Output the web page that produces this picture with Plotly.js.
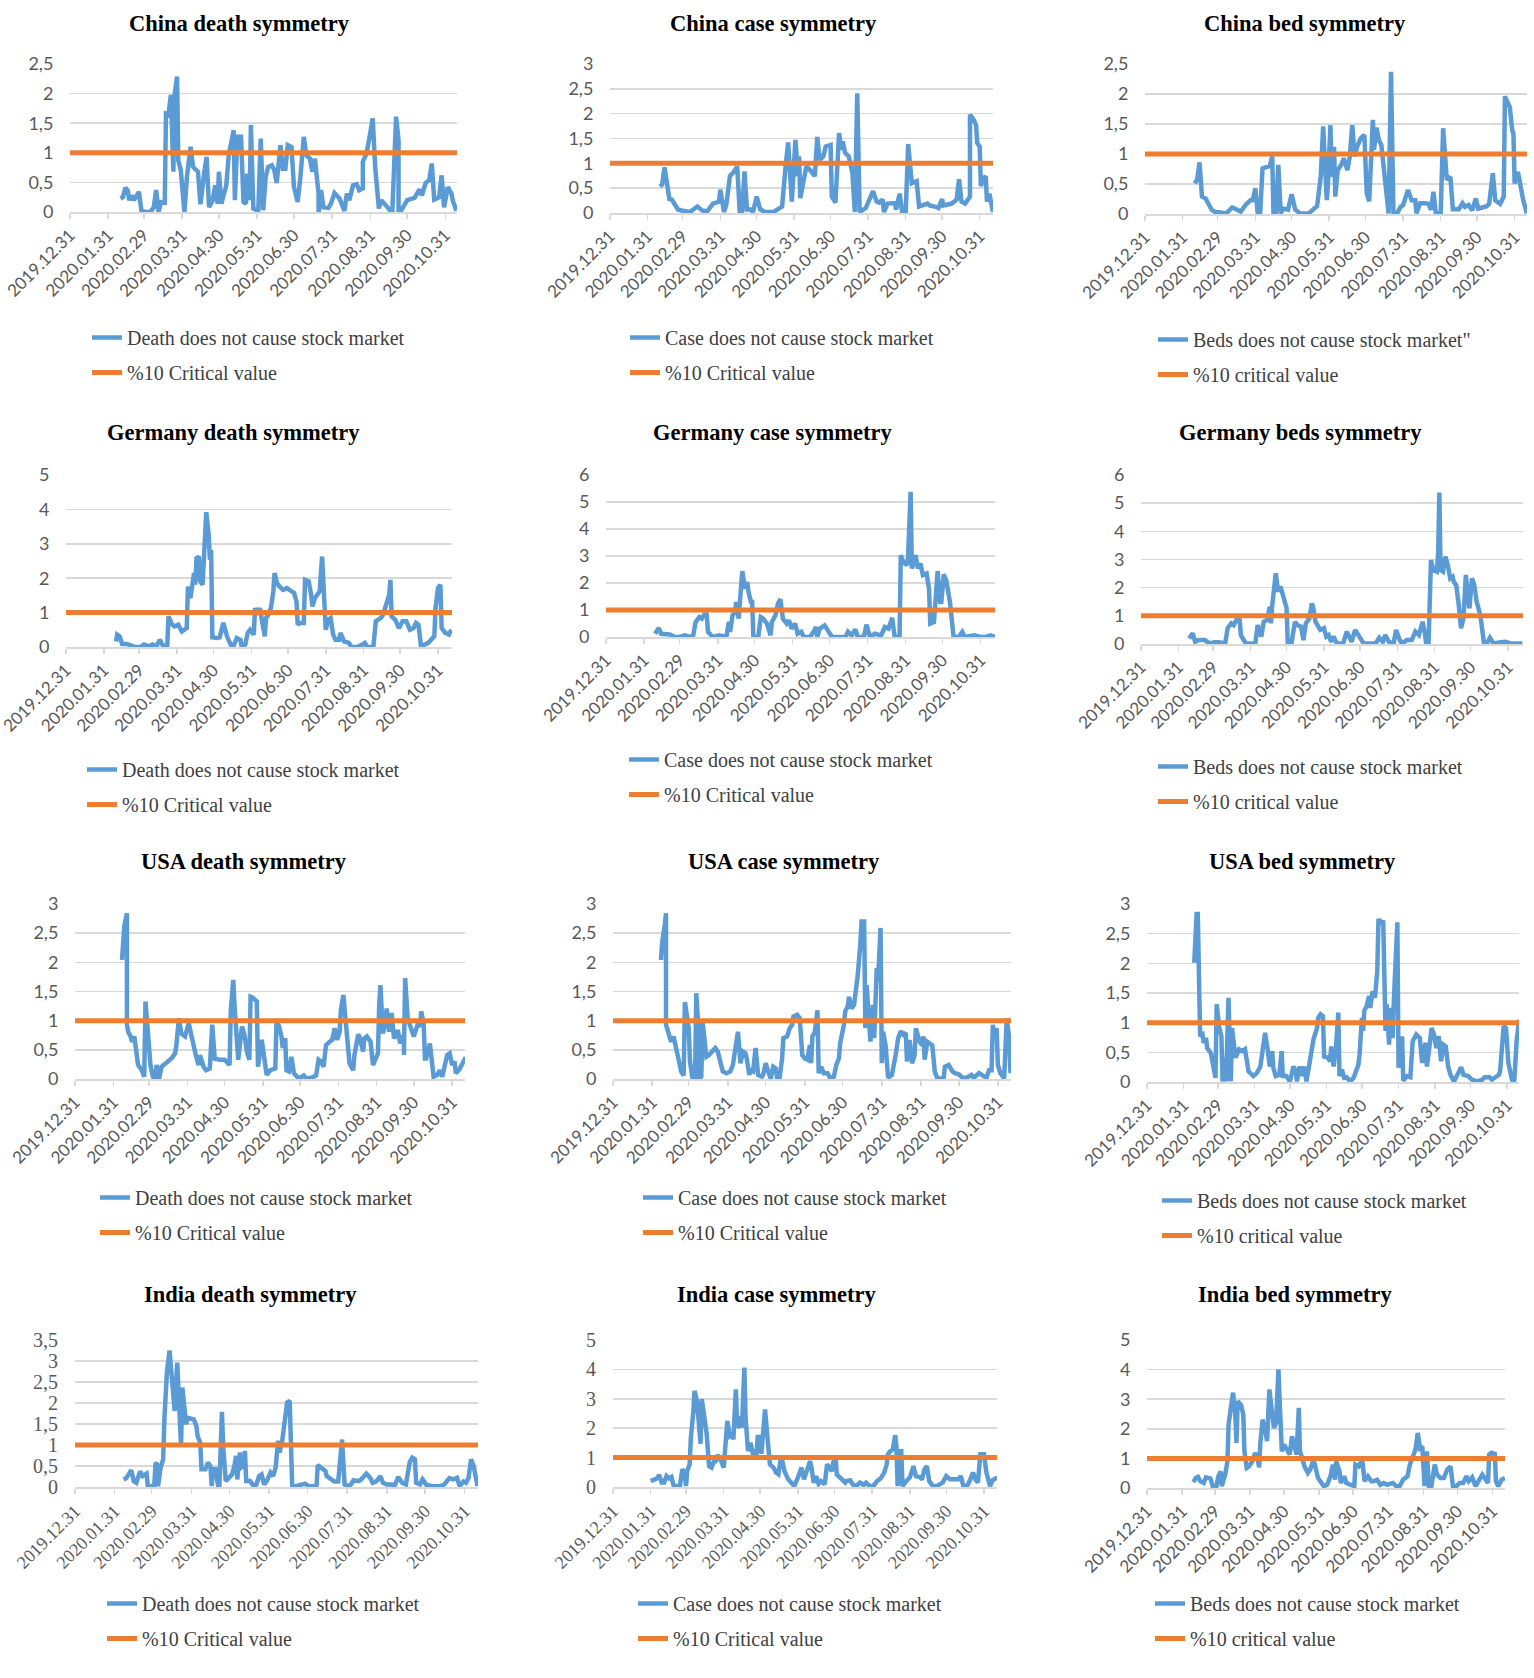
<!DOCTYPE html>
<html>
<head>
<meta charset="utf-8">
<script src="https://cdn.plot.ly/plotly-3.0.1.min.js"></script>
<style>
  body { margin: 0; background: #fff; }
  #chart { width: 1534px; height: 1678px; }
</style>
</head>
<body>
<div id="chart"></div>
<script>
// x values are days counted from 2019.12.31
var monthEnds = ["2019-12-31", "2020-01-31", "2020-02-29", "2020-03-31", "2020-04-30", "2020-05-31",
                 "2020-06-30", "2020-07-31", "2020-08-31", "2020-09-30", "2020-10-31"];
var monthLabels = ["2019.12.31", "2020.01.31", "2020.02.29", "2020.03.31", "2020.04.30", "2020.05.31",
                   "2020.06.30", "2020.07.31", "2020.08.31", "2020.09.30", "2020.10.31"];
var criticalValue = 1;

var chinaDeathDay = [41,43,45,47,48,50,52,54,56,58,61,65,68,70,72,74,77,78,80,82,84,85,87,88,90,93,95,98,100,104,106,109,111,113,116,118,120,121,123,127,129,133,134,136,138,139,141,143,144,146,147,149,153,155,157,159,161,164,166,168,171,173,175,177,180,182,185,187,190,192,195,197,199,202,202,204,206,210,212,215,219,221,223,225,227,230,233,235,238,238,241,244,246,248,251,253,257,260,262,265,267,267,269,272,274,280,284,286,289,292,294,296,300,302,304,307,310,311,314];
var chinaDeathVal = [0.23,0.25,0.41,0.36,0.2,0.28,0.2,0.27,0.34,0.03,0,0,0.07,0.37,0,0.17,0.16,1.66,1.64,1.98,0.68,1.98,2.29,0.87,0.71,0,0.59,1.1,0.76,0.68,0.13,0.65,0.93,0.08,0.2,0.45,0.14,0.68,0.14,0.45,0.96,1.38,0.2,1.27,1.27,1.27,0.17,0.14,0.65,0.2,1.47,0.06,0.02,1.24,0.03,0.59,0.76,0.79,0.71,0.49,1.13,0.73,0.73,1.13,1.1,0.42,0.17,0.54,1.27,0.96,0.9,0.68,0.9,0.31,0,0.37,0.08,0.07,0.14,0.32,0.23,0.11,0.02,0.31,0.2,0.45,0.47,0.37,0.4,0.85,0.99,1.33,1.58,0.76,0.06,0.2,0.11,0.03,0.03,1.61,1.21,0.02,0.02,0.14,0.2,0.24,0.38,0.28,0.49,0.54,0.82,0.21,0.25,0.62,0.08,0.42,0.31,0.2,0.02];

var chinaCaseDay = [41,43,45,48,49,51,54,56,59,66,72,76,80,85,90,91,94,96,99,101,102,105,107,109,111,113,116,118,121,124,128,135,139,142,145,147,150,151,153,155,156,157,160,162,165,169,171,173,176,178,182,183,186,189,191,192,194,197,200,202,204,206,211,217,220,222,225,226,229,233,235,236,239,241,244,246,249,253,255,262,264,268,271,274,275,282,286,288,290,293,297,297,300,302,303,305,306,308,310,311,313,316];
var chinaCaseVal = [0.54,0.57,0.92,0.44,0.28,0.27,0.17,0.07,0.05,0.02,0.13,0.05,0.03,0.19,0.23,0.47,0.02,0.17,0.75,0.79,0.82,0.94,0.02,0.02,0.84,0.07,0.07,0.02,0.33,0.07,0.02,0.02,0.09,0.13,0.97,1.42,0.23,0.6,1.47,0.74,1.14,0.3,0.68,0.94,0.87,0.74,1.53,1.07,1.14,1.34,1.37,0.33,0.21,1.61,1.27,1.44,1.21,1.14,0.8,0.02,2.41,0.02,0.1,0.44,0.23,0.21,0.27,0.02,0.19,0.2,0.2,0.07,0.39,0.02,0.02,1.39,0.6,0.64,0.13,0.19,0.15,0.13,0.1,0.28,0.15,0.19,0.27,0.68,0.23,0.19,0.33,1.98,1.88,1.77,1.41,1.34,0.54,0.7,0.74,0.23,0.39,0.02];

var chinaBedDay = [41,43,45,47,50,52,55,58,61,67,72,76,79,83,87,89,91,93,95,97,101,103,105,106,108,110,112,114,118,121,124,128,135,139,142,145,147,150,151,153,154,156,157,159,162,164,167,169,171,173,175,178,181,183,185,188,189,191,193,195,198,201,203,205,208,211,213,217,220,223,224,227,231,234,236,238,240,244,246,249,252,254,259,262,264,267,270,273,275,282,284,287,289,293,296,297,299,301,303,304,305,307,308,310,312,315];
var chinaBedVal = [0.51,0.57,0.86,0.29,0.26,0.17,0.07,0.03,0.03,0.01,0.11,0.07,0.04,0.15,0.23,0.23,0.43,0.01,0.01,0.76,0.79,0.8,0.96,0.01,0.01,0.82,0.01,0.09,0.07,0.33,0.07,0.01,0.01,0.09,0.13,0.62,1.46,0.23,0.51,1.48,0.62,1.12,0.29,0.73,0.82,0.93,0.73,0.96,1.48,0.96,1.12,1.26,1.32,0.34,0.21,1.57,1.07,1.44,1.23,1.15,0.57,0.01,2.37,0.01,0.01,0.12,0.15,0.4,0.23,0.23,0.01,0.18,0.18,0.17,0.07,0.37,0.01,0.01,1.43,0.57,0.62,0.08,0.08,0.18,0.12,0.15,0.06,0.26,0.09,0.13,0.17,0.68,0.23,0.17,0.29,1.96,1.87,1.78,1.4,1.34,0.51,0.67,0.67,0.4,0.24,0.01];

var germanyDeathDay = [41,42,44,46,50,54,57,61,64,68,71,74,77,79,81,83,84,87,89,92,95,99,100,102,104,105,106,107,109,110,112,113,115,117,118,119,120,124,126,129,132,135,137,140,143,144,147,149,151,154,155,157,159,161,163,164,166,168,170,171,173,175,178,181,184,187,189,190,192,195,196,199,201,202,204,207,208,210,212,213,215,217,219,221,224,225,228,232,234,239,243,245,247,252,254,258,260,263,265,266,267,270,273,276,279,282,285,287,289,291,293,297,302,303,305,307,308,311,314,316];
var germanyDeathVal = [0.16,0.36,0.31,0.09,0.09,0.05,0,0,0.07,0.02,0.07,0.02,0.21,0.07,0,0,0.89,0.65,0.6,0.65,0.45,0.55,1.76,1.42,1.81,2.15,1.81,2.58,2.63,1.91,1.81,2.49,3.92,3.26,2.53,2.82,0.28,0.26,0.28,0.7,0.31,0.07,0,0.26,0.21,0.02,0.07,0.41,0.5,0.36,1.13,0.94,1.13,0.7,0.31,0.84,0.94,1.13,1.62,2.15,1.86,1.76,1.66,1.71,1.62,1.57,1.32,0.65,0.7,0.7,1.95,1.91,1.52,1.18,1.42,1.62,1.62,2.63,1.52,0.5,0.79,0.84,0.36,0.21,0.21,0.41,0.16,0.12,0,0,0.07,0.12,0,0,0.75,0.84,0.94,1.32,1.52,1.95,0.89,0.79,0.55,0.75,0.75,0.5,0.55,0.7,0.65,0.05,0.05,0.12,0.31,1.13,1.71,1.81,0.55,0.41,0.36,0.5];

var germanyCaseDay = [40,43,45,48,52,56,60,64,69,71,73,76,78,80,82,83,87,92,96,98,100,101,103,105,106,108,109,111,113,115,116,118,119,120,124,126,128,131,134,135,138,140,142,143,144,147,149,151,154,156,159,161,166,169,171,172,174,178,181,184,195,197,200,203,205,210,212,215,219,224,227,230,233,235,239,240,242,245,246,248,249,251,252,254,256,258,261,263,264,267,270,272,273,275,277,280,283,287,290,292,300,305,309,313,317];
var germanyCaseVal = [0.12,0.33,0.12,0.09,0.09,0,0,0.06,0,0.06,0.56,0.74,0.68,0.83,0.83,0.19,0,0.06,0,0,0.56,0.19,0.8,0.93,1.3,0.68,1.3,2.44,1.79,2.04,1.67,1.3,1.3,0,0,0.74,0.68,0.5,0.06,0.56,0.8,1.24,1.4,1.05,0.68,0.5,0.62,0.31,0.5,0.12,0.19,0,0,0.19,0.37,0,0.31,0.43,0.19,0,0,0.19,0.06,0.28,0,0,0.46,0,0.12,0.06,0.37,0.31,0.71,0,0,3.03,2.78,2.66,3.03,5.38,2.54,2.78,3.03,2.54,2.72,2.29,2.35,1.79,0.5,0.56,2.44,1.3,1.3,2.32,2.1,1.3,0,0,0.19,0,0.06,0,0,0.06,0];

var germanyBedDay = [40,43,45,48,53,57,61,65,70,72,75,77,80,82,83,87,95,97,100,102,105,107,108,109,112,114,116,118,120,121,122,125,128,130,133,135,137,140,142,143,145,147,149,152,154,156,158,160,163,168,171,173,175,178,182,185,195,198,201,203,206,210,212,215,217,221,225,228,231,234,236,237,239,241,243,246,247,248,249,251,253,255,257,259,260,262,264,266,268,270,272,273,275,277,279,282,285,288,290,293,299,303,307,317];
var germanyBedVal = [0.2,0.38,0.08,0.14,0.14,0.02,0.06,0.06,0.02,0.56,0.73,0.67,0.91,0.85,0.32,0.02,0.02,0.67,0.26,0.79,0.85,1.33,0.73,1.33,2.51,1.86,2.04,1.68,1.38,1.27,0.02,0.02,0.79,0.67,0.62,0.14,0.73,0.91,1.44,1.33,0.79,0.62,0.5,0.56,0.26,0.32,0.08,0.26,0.02,0.02,0.44,0.26,0.08,0.5,0.26,0.02,0.02,0.22,0.08,0.32,0.08,0.02,0.5,0.14,0.02,0.14,0.14,0.44,0.32,0.79,0.38,0.02,0.02,2.98,2.63,2.57,3.28,5.38,2.63,2.57,3.1,2.8,2.33,2.39,2.21,2.09,1.44,0.56,0.91,2.45,1.5,1.27,2.33,2.09,1.5,1.03,0.06,0.06,0.22,0.02,0.06,0.08,0.02,0.02];

var usaDeathDay = [38,39,40,42,42,43,45,46,48,49,51,54,56,57,59,61,63,65,66,68,70,74,78,81,82,84,86,89,92,94,97,98,100,101,104,106,109,111,113,117,121,125,126,128,129,131,132,135,137,139,141,142,144,147,148,151,153,155,158,162,163,165,167,168,170,171,173,175,177,179,181,185,187,191,195,197,199,201,203,206,208,210,212,214,215,217,219,221,222,225,226,229,230,233,234,236,239,241,243,245,246,247,249,251,252,254,256,258,260,261,263,266,266,267,269,271,273,274,277,279,280,282,283,284,287,288,290,293,295,297,299,301,303,305,307,308,311,314,316];
var usaDeathVal = [2.04,2.33,2.64,2.84,0.93,0.81,0.73,0.64,0.73,0.56,0.24,0.15,0.04,1.33,0.81,0.24,0.04,0.01,0.24,0.01,0.21,0.27,0.35,0.44,0.58,1.04,0.78,0.73,0.96,0.76,0.41,0.38,0.24,0.41,0.21,0.15,0.18,0.93,0.35,0.33,0.33,0.24,1.18,1.7,1.27,0.73,0.33,0.9,0.76,0.47,0.33,1.41,1.39,1.33,0.21,0.67,0.35,0.07,0.15,0.18,1.01,0.9,0.73,0.53,0.7,0.15,0.13,0.38,0.1,0.04,0.01,0.06,0.01,0.02,0.06,0.33,0.3,0.21,0.58,0.64,0.67,0.87,0.67,0.81,1.18,1.44,1.04,0.64,0.27,0.15,0.41,0.76,0.73,0.47,0.7,0.73,0.64,0.24,0.35,0.44,1.27,1.61,0.78,0.96,1.21,0.81,1.13,0.7,0.76,0.84,0.61,0.76,0.41,1.73,1.04,0.93,0.81,0.73,0.93,0.9,1.16,0.93,0.35,0.35,0.61,0.35,0.04,0.07,0.15,0.04,0.21,0.41,0.44,0.24,0.3,0.1,0.17,0.3,0.37];

var usaCaseDay = [38,39,41,42,42,44,45,46,48,50,52,54,56,57,60,61,63,65,66,68,68,70,71,73,74,76,78,81,83,85,87,90,93,95,97,99,101,103,105,106,108,109,111,113,115,118,119,121,123,125,127,129,130,132,134,135,138,140,142,143,146,148,150,152,154,156,157,158,160,162,163,165,167,170,172,175,177,179,180,183,184,186,187,189,191,193,194,196,197,199,200,201,202,204,206,207,209,210,212,213,214,216,218,221,224,226,228,230,232,233,235,237,239,240,243,245,246,247,249,251,253,255,257,262,263,266,269,271,274,277,280,284,286,290,293,296,298,300,301,302,304,305,307,310,312,314,315];
var usaCaseVal = [2.04,2.35,2.64,2.84,0.93,0.78,0.76,0.64,0.73,0.53,0.24,0.13,0.06,1.32,0.87,0.3,0.01,0.01,1.47,0.76,0.01,0.04,0.98,0.53,0.38,0.41,0.47,0.53,0.47,0.27,0.13,0.1,0.13,0.24,0.53,0.81,0.27,0.47,0.44,0.35,0.07,0.15,0.13,0.53,0.07,0.04,0.07,0.27,0.13,0.01,0.21,0.18,0.01,0.01,0.35,0.7,0.73,0.87,0.93,1.07,1.1,1.04,0.41,0.35,0.33,0.58,0.27,0.73,0.81,1.18,0.1,0.21,0.1,0.1,0.02,0.04,0.24,0.35,0.61,0.93,1.16,1.24,1.41,1.21,1.27,1.56,1.79,2.31,2.7,2.7,0.87,1.61,1.3,0.64,1.27,0.7,1.9,1.67,2.59,0.27,0.81,0.58,0.02,0.07,0.41,0.7,0.82,0.76,0.79,0.3,0.67,0.27,0.41,0.87,0.64,0.58,0.73,0.33,0.64,0.6,0.58,0.13,0.01,0.01,0.21,0.24,0.13,0.1,0.08,0.02,0.02,0.07,0.02,0.1,0.07,0.02,0.15,0.15,0.93,0.73,0.87,0.24,0.1,0.01,1.04,0.7,0.1];

var usaBedDay = [40,42,43,44,45,47,48,50,51,54,56,58,59,61,63,64,66,67,69,71,72,75,78,81,83,86,90,93,96,98,100,102,104,106,107,109,112,114,115,118,121,124,126,127,129,131,133,135,138,141,144,145,147,149,150,153,155,156,158,160,162,163,165,167,169,172,175,177,179,180,182,183,184,186,188,189,191,193,195,196,198,200,201,202,203,205,206,208,209,210,212,213,215,216,217,220,223,225,228,231,233,234,236,237,239,241,243,245,247,249,251,253,255,257,260,262,266,268,272,275,280,284,286,290,292,295,298,299,302,304,306,309,311,313,315];
var usaBedVal = [2.01,2.83,2.83,0.97,0.77,0.8,0.66,0.74,0.57,0.49,0.26,0.07,1.31,0.94,0.77,0.01,0.41,0.01,1.42,0.01,0.91,0.41,0.55,0.52,0.55,0.18,0.1,0.15,0.26,0.57,0.83,0.57,0.26,0.52,0.24,0.1,0.12,0.52,0.1,0.1,0.01,0.26,0.18,0.01,0.26,0.1,0.26,0.01,0.38,0.72,0.91,1.08,1.14,1.11,0.43,0.41,0.35,0.6,0.26,0.57,1.17,0.1,0.21,0.07,0.08,0.01,0.07,0.21,0.29,0.46,1.08,0.86,1.2,1.28,1.45,1.25,1.53,1.42,1.87,2.75,2.66,2.72,1.48,0.86,1.31,0.63,1.25,0.74,1.36,1.87,2.69,0.24,0.74,0.77,0.02,0.1,0.08,0.69,0.8,0.74,0.32,0.52,0.66,0.26,0.57,0.91,0.8,0.57,0.77,0.35,0.63,0.6,0.26,0.12,0.01,0.1,0.25,0.12,0.1,0.04,0.01,0.04,0.08,0.08,0.04,0.08,0.12,0.18,0.94,0.91,0.32,0.04,0.01,0.69,1.05];

var indiaDeathDay = [38,40,42,44,46,48,51,53,56,57,62,63,64,65,67,69,70,72,74,75,76,78,80,81,82,83,84,85,87,88,90,93,95,96,98,99,102,104,106,107,108,110,112,113,115,116,118,120,123,125,126,127,129,130,132,133,134,137,140,142,144,146,148,150,153,155,157,159,160,162,164,166,168,170,173,177,180,183,189,190,193,196,197,200,203,206,209,211,214,216,218,222,224,228,231,233,236,239,241,244,248,250,253,256,259,262,264,266,267,270,272,275,280,286,289,293,296,299,301,304,306,308,310,312,315];
var indiaDeathVal = [0.18,0.21,0.3,0.4,0.14,0.1,0.37,0.26,0.32,0.02,0.02,0.54,0.58,0.02,0.46,0.66,1.65,2.76,3.25,2.88,2.48,1.81,2.96,2.13,1.33,0.98,2.37,2.13,1.49,1.65,1.63,1.61,1.45,1.21,1.06,0.42,0.42,0.58,0.5,0.02,0.42,0.42,0.02,0.02,1.79,0.94,0.14,0.22,0.3,0.54,0.74,0.18,0.82,0.46,0.5,0.86,0.14,0.14,0.02,0.06,0.26,0.3,0.06,0.14,0.34,0.26,0.46,1.1,0.82,1.06,1.49,2.01,2.05,0.02,0.02,0.06,0.08,0.02,0.02,0.52,0.46,0.38,0.26,0.18,0.13,0.13,1.13,0.06,0.02,0.06,0.16,0.14,0.18,0.32,0.22,0.1,0.14,0.26,0.1,0.06,0.06,0.02,0.24,0.1,0.06,0.6,0.7,0.66,0.1,0.06,0.18,0.05,0.02,0.02,0.06,0.21,0.18,0.22,0.02,0.13,0.1,0.22,0.66,0.5,0.02];

var indiaCaseDay = [31,33,36,38,40,42,44,46,48,50,53,55,57,59,60,61,63,64,66,67,69,71,72,73,75,77,79,81,83,84,86,89,91,93,94,96,98,99,101,102,104,105,106,108,109,111,113,115,118,119,121,122,124,125,127,128,129,132,134,136,138,139,141,144,147,149,152,155,157,159,162,163,165,167,169,171,174,176,178,180,181,183,184,186,189,191,192,195,197,200,203,206,208,211,214,217,220,223,225,226,228,230,232,233,234,236,237,238,241,244,247,249,252,254,256,258,260,263,266,269,271,274,277,281,284,286,288,291,293,296,298,300,302,305,307,310,312,316];
var indiaCaseVal = [0.2,0.23,0.29,0.41,0.15,0.15,0.37,0.29,0.34,0.03,0.03,0.03,0.6,0.49,0.03,0.54,0.77,1.68,2.53,3.27,2.93,1.79,1.47,2.99,2.46,1.81,0.71,0.66,0.88,0.83,1.09,0.88,0.66,2.02,2.25,1.73,1.79,1.62,3.32,2.13,2.02,2.41,2.02,4.06,2.36,1.22,1.51,1.13,1.13,1.7,1.7,1.13,2.25,2.64,1.68,1.11,0.77,0.66,0.49,0.43,1,0.94,0.54,0.26,0.09,0.03,0.32,0.66,0.26,0.54,0.88,0.71,0.15,0.37,0.11,0.2,0.09,0.77,0.68,0.54,0.83,1,0.43,0.34,0.26,0.15,0.2,0.23,0.09,0.03,0.15,0.07,0.15,0.03,0.03,0.2,0.29,0.49,0.77,1.11,1.22,1.28,1.76,1.39,0.03,1.22,1.22,0.03,0.2,0.32,0.71,0.37,0.34,0.26,0.6,0.71,0.2,0.03,0.03,0.09,0.15,0.37,0.26,0.26,0.26,0.37,0.03,0.03,0.18,0.49,0.26,0.15,1.11,1.11,0.49,0.03,0.23,0.32];

var indiaBedDay = [41,43,45,47,50,52,54,56,58,61,63,65,66,69,71,72,74,76,78,79,80,83,85,86,88,90,93,95,97,99,100,102,104,106,108,110,112,114,116,117,119,121,124,126,128,130,132,134,135,137,139,142,144,147,149,151,153,156,159,162,164,166,167,170,171,174,176,180,183,184,187,190,192,195,198,200,203,206,209,212,217,220,223,226,230,232,235,237,239,241,243,245,247,249,251,254,256,259,262,265,268,270,273,276,279,282,284,287,290,293,296,298,301,302,304,307,308,310,311,313,316];
var indiaBedVal = [0.2,0.34,0.38,0.23,0.17,0.36,0.34,0.32,0.06,0,0.4,0.56,0.06,0.45,0.9,2.14,2.71,3.22,2.42,1.52,2.93,2.8,2.48,1.24,0.68,0.73,0.9,1.13,1.13,0.7,1.49,2.31,2.03,1.58,3.33,2.6,2.03,2.2,4.01,3.05,1.24,1.47,1.24,1.13,1.75,1.47,1.13,2.71,1.24,1.02,0.73,0.51,0.62,0.96,0.62,0.34,0.23,0.06,0.11,0.4,0.79,0.28,0.9,0.56,0.17,0.4,0.17,0.11,0.06,0.79,0.73,0.96,0.23,0.4,0.23,0.23,0.28,0.11,0.17,0.11,0.17,0.06,0.06,0.28,0.4,0.79,1.13,1.3,1.86,1.35,1.41,0.06,1.24,0,0.06,0.79,0.45,0.34,0.34,0.62,0.73,0.06,0.06,0.17,0.17,0.4,0.23,0.36,0.06,0.28,0.45,0.34,0.17,1.13,1.19,1.15,0.23,0.06,0.17,0.28,0.34];

var W = 1534, H = 1678;
var startMs = Date.UTC(2019, 11, 31);
function dayToDate(d) {
  return new Date(startMs + d * 86400000).toISOString().slice(0, 19).replace("T", " ");
}

// box: [left, right, top, bottom] in px ; leg: [x of legend line, y of first item]
var panels = [
  { title: "China death symmetry", day: chinaDeathDay, val: chinaDeathVal, names: ["Death does not cause stock market", "%10 Critical value"],
    yMax: 2.5, yStep: 0.5, end: 314.5, box: [70, 457, 64, 212], tx: 239, ty: 24, leg: [77, 337], serif: false },
  { title: "China case symmetry", day: chinaCaseDay, val: chinaCaseVal, names: ["Case does not cause stock market", "%10 Critical value"],
    yMax: 3, yStep: 0.5, end: 316, box: [610, 993, 64, 213], tx: 773, ty: 24, leg: [615, 337], serif: false },
  { title: "China bed symmetry", day: chinaBedDay, val: chinaBedVal, names: ["Beds does not cause stock market\"", "%10 critical value"],
    yMax: 2.5, yStep: 0.5, end: 315.2, box: [1145, 1527, 64, 214], tx: 1305, ty: 24, leg: [1143, 339], serif: false },
  { title: "Germany death symmetry", day: germanyDeathDay, val: germanyDeathVal, names: ["Death does not cause stock market", "%10 Critical value"],
    yMax: 5, yStep: 1, end: 316.5, box: [66, 452, 475, 647], tx: 233, ty: 432, leg: [72, 769], serif: false },
  { title: "Germany case symmetry", day: germanyCaseDay, val: germanyCaseVal, names: ["Case does not cause stock market", "%10 Critical value"],
    yMax: 6, yStep: 1, end: 316.7, box: [606, 995, 475, 637], tx: 772, ty: 432, leg: [614, 759], serif: false },
  { title: "Germany beds symmetry", day: germanyBedDay, val: germanyBedVal, names: ["Beds does not cause stock market", "%10 critical value"],
    yMax: 6, yStep: 1, end: 317.5, box: [1141, 1523, 475, 644], tx: 1300, ty: 432, leg: [1143, 766], serif: false },
  { title: "USA death symmetry", day: usaDeathDay, val: usaDeathVal, names: ["Death does not cause stock market", "%10 Critical value"],
    yMax: 3, yStep: 0.5, end: 315.4, box: [75, 465, 904, 1079], tx: 244, ty: 861, leg: [85, 1197], serif: false },
  { title: "USA case symmetry", day: usaCaseDay, val: usaCaseVal, names: ["Case does not cause stock market", "%10 Critical value"],
    yMax: 3, yStep: 0.5, end: 315.4, box: [613, 1011, 904, 1079], tx: 784, ty: 861, leg: [628, 1197], serif: false },
  { title: "USA bed symmetry", day: usaBedDay, val: usaBedVal, names: ["Beds does not cause stock market", "%10 critical value"],
    yMax: 3, yStep: 0.5, end: 315, box: [1147, 1519, 904, 1082], tx: 1302, ty: 861, leg: [1147, 1200], serif: false },
  { title: "India death symmetry", day: indiaDeathDay, val: indiaDeathVal, names: ["Death does not cause stock market", "%10 Critical value"],
    yMax: 3.5, yStep: 0.5, end: 315.4, box: [75, 478, 1340, 1487], tx: 250, ty: 1294, leg: [92, 1603], serif: true },
  { title: "India case symmetry", day: indiaCaseDay, val: indiaCaseVal, names: ["Case does not cause stock market", "%10 Critical value"],
    yMax: 5, yStep: 1, end: 315.7, box: [613, 997, 1340, 1487], tx: 776, ty: 1294, leg: [623, 1603], serif: true },
  { title: "India bed symmetry", day: indiaBedDay, val: indiaBedVal, names: ["Beds does not cause stock market", "%10 critical value"],
    yMax: 5, yStep: 1, end: 316, box: [1147, 1505, 1340, 1488], tx: 1295, ty: 1294, leg: [1140, 1603], serif: false }
];

var data = [];
var layout = {
  width: W,
  height: H,
  margin: { t: 0, r: 0, l: 0, b: 0 },
  paper_bgcolor: "white",
  plot_bgcolor: "white",
  separators: ", ",
  showlegend: true,
  annotations: []
};

panels.forEach(function (p, i) {
  var n = i + 1;
  var sfx = n === 1 ? "" : String(n);
  var legName = n === 1 ? "legend" : "legend" + n;
  var tickFam = p.serif ? "Liberation Serif" : "Lato";

  data.push({
    type: "scatter", mode: "lines",
    x: p.day.map(dayToDate), y: p.val,
    xaxis: "x" + sfx, yaxis: "y" + sfx,
    name: p.names[0], legend: legName, legendgroup: "b" + n,
    line: { color: "#5b9bd5", width: 4.5 },
    hoverinfo: "skip"
  });
  data.push({
    type: "scatter", mode: "lines",
    x: [dayToDate(0), dayToDate(p.end)], y: [criticalValue, criticalValue],
    xaxis: "x" + sfx, yaxis: "y" + sfx,
    name: p.names[1], legend: legName, legendgroup: "o" + n,
    line: { color: "#ed7d31", width: 5 },
    hoverinfo: "skip"
  });

  layout["xaxis" + sfx] = {
    type: "date",
    domain: [p.box[0] / W, p.box[1] / W],
    anchor: "y" + sfx,
    range: [dayToDate(0), dayToDate(p.end)],
    tickmode: "array", tickvals: monthEnds, ticktext: monthLabels,
    tickangle: -45,
    ticklabeloverflow: "allow",
    ticks: "outside", ticklen: 5, tickwidth: 1.5, tickcolor: "#d9d9d9",
    showline: true, linecolor: "#d9d9d9", linewidth: 1.5,
    showgrid: false, zeroline: false,
    tickfont: { family: tickFam, size: p.serif ? 18 : 17, color: "#595959" }
  };
  layout["yaxis" + sfx] = {
    domain: [1 - p.box[3] / H, 1 - p.box[2] / H],
    anchor: "x" + sfx,
    range: [0, p.yMax], tick0: 0, dtick: p.yStep,
    showgrid: true, gridcolor: "#d9d9d9", gridwidth: 1.5,
    zeroline: false, showline: false,
    ticks: "outside", ticklen: 12, tickcolor: "rgba(0,0,0,0)",
    tickfont: { family: tickFam, size: p.serif ? 20 : 18, color: "#595959" }
  };
  layout[legName] = {
    x: (p.leg[0] + 10) / W, xanchor: "left",
    y: 1 - (p.leg[1] - 19) / H, yanchor: "top",
    bgcolor: "rgba(0,0,0,0)", borderwidth: 0,
    tracegroupgap: 6,
    font: { family: "Liberation Serif", size: 20, color: "#404040" }
  };
  layout.annotations.push({
    xref: "paper", yref: "paper",
    x: p.tx / W, y: 1 - p.ty / H,
    xanchor: "center", yanchor: "middle",
    text: "<b>" + p.title + "</b>", showarrow: false,
    font: { family: "Liberation Serif", size: 22.5, color: "#000000" }
  });
});

Plotly.newPlot("chart", data, layout, { staticPlot: true });
</script>
</body>
</html>
